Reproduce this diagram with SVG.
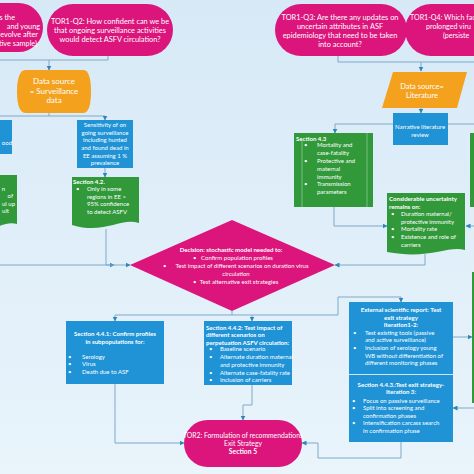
<svg xmlns="http://www.w3.org/2000/svg" width="474" height="474" viewBox="0 0 474 474">
<defs>
<linearGradient id="bg" x1="0" y1="0" x2="0" y2="1"><stop offset="0" stop-color="#d7e9f7"/><stop offset="1" stop-color="#e9f4fb"/></linearGradient>
<marker id="ah" viewBox="0 0 10 10" refX="9" refY="5" markerWidth="5" markerHeight="5" orient="auto" markerUnits="userSpaceOnUse"><path d="M0,0 L10,5 L0,10 Z" fill="#2f86b8"/></marker>
</defs>
<style>
text{font-family:Lato,"Open Sans","Liberation Sans",sans-serif;fill:#fff}
.pill{fill:#db157c}
.q{font-size:7.4px;text-anchor:middle}
.qe{font-size:7.3px;text-anchor:end}
.qs{font-size:7.1px}
.b{font-size:6px}
.bh{font-size:6.1px;font-weight:bold}
.c{text-anchor:middle}
.e{text-anchor:end}
.blue{fill:#1f93d6}
.green{fill:#31993a}
.orange{fill:#f4a11d}
.con{fill:none;stroke:#7ea9c9;stroke-width:1}
.arr{marker-end:url(#ah)}
.inner{stroke:#8cc792;stroke-width:0.8}
</style>
<rect width="474" height="474" fill="url(#bg)"/>

<g id="connectors">
<path class="con" d="M0 60 H108 V56"/>
<path class="con arr" d="M49 60 V70"/>
<path class="con" d="M338 56 V62 H474"/>
<path class="con arr" d="M421 62 V71"/>
<path class="con" d="M49 113 V116 M0 116 H105"/>
<path class="con arr" d="M105 116 V120"/>
<path class="con arr" d="M105 168 V177"/>
<path class="con arr" d="M0 265 H114"/>
<path class="con arr" d="M106 229 V265 H130"/>
<path class="con arr" d="M421 108 V113"/>
<path class="con arr" d="M393 124 H335 V133"/>
<path class="con" d="M448 124 H474"/>
<path class="con arr" d="M334 207 V226 H387"/>
<path class="con arr" d="M474 226 H466"/>
<path class="con arr" d="M425 254 V265 H335"/>
<path class="con" d="M232 311 V315 M115 315 H338"/>
<path class="con arr" d="M115 315 V321"/>
<path class="con arr" d="M252 315 V321"/>
<path class="con arr" d="M338 315 V297 H401 V302"/>
<path class="con arr" d="M453 337 H472"/>
<path class="con arr" d="M474 408 H453"/>
<path class="con arr" d="M115 384 V443 H184"/>
<path class="con arr" d="M252 385 V405 H243 V420"/>
<path class="con arr" d="M401 442 V458 H318 V443 H302"/>
</g>

<g id="q1">
<rect class="pill" x="-70" y="3" width="113" height="49" rx="24.5"/>
<text class="qe" x="15" y="19.5">s the</text>
<text class="qe" x="40" y="28.5">and young</text>
<text class="qe" x="38" y="37">evolve after</text>
<text class="qe" x="37" y="45.5">tive sample)</text>
</g>
<g id="q2">
<rect class="pill" x="47" y="4" width="126" height="52" rx="26"/>
<text class="q" x="110" y="24">TOR1-Q2: How confident can we be</text>
<text class="q" x="110" y="33">that ongoing surveillance activities</text>
<text class="q" x="110" y="42">would detect ASFV circulation?</text>
</g>
<g id="q3">
<rect class="pill" x="275" y="4" width="132" height="52" rx="26"/>
<text class="q" x="340" y="20">TOR1-Q3: Are there any updates on</text>
<text class="q" x="340" y="29">uncertain attributes in ASF</text>
<text class="q" x="340" y="38">epidemiology that need to be taken</text>
<text class="q" x="340" y="47">into account?</text>
</g>
<g id="q4">
<rect class="pill" x="405" y="4" width="120" height="52" rx="26"/>
<text class="qs" x="410" y="20">TOR1-Q4: Which fac</text>
<text class="qs" x="426" y="29">prolonged viru</text>
<text class="qs" x="443" y="38">(persiste</text>
</g>

<g id="ds-surv">
<path class="orange" d="M26 70 H83 Q91 70 91 91.5 Q91 113 83 113 H26 Q17 113 17 91.5 Q17 70 26 70 Z"/>
<text class="c" style="font-size:8px" x="54" y="84">Data source</text>
<text class="c" style="font-size:8px" x="54" y="93.5">= Surveillance</text>
<text class="c" style="font-size:8px" x="54" y="103">data</text>
</g>

<g id="left-blue">
<rect class="blue" x="-20" y="120" width="32" height="34"/>
<text class="b e" x="12" y="145">ood</text>
</g>
<g id="left-green">
<path class="green" d="M-20 175 H17 V224 C5 220 -5 232 -20 226 Z"/>
<text class="b e" x="5" y="191">n</text>
<text class="b e" x="13" y="198">of</text>
<text class="b e" x="15" y="206">ul up</text>
<text class="b e" x="9" y="213">ult</text>
</g>

<g id="sensitivity">
<rect class="blue" x="77" y="120" width="56" height="48"/>
<text class="b c" x="105" y="127">Sensitivity of on</text>
<text class="b c" x="105" y="135">going surveillance</text>
<text class="b c" x="105" y="142">including hunted</text>
<text class="b c" x="105" y="150">and found dead in</text>
<text class="b c" x="105" y="158">EE assuming 1 %</text>
<text class="b c" x="105" y="165">prevalence</text>
</g>

<g id="s42">
<path class="green" d="M72 177 H139 V223 C120 217 105 235 72 225 Z"/>
<text class="bh" x="73" y="184">Section 4.2.</text>
<text class="b" x="76" y="191">•</text>
<text class="b" x="87" y="191">Only in some</text>
<text class="b" x="87" y="199">regions in EE &gt;</text>
<text class="b" x="87" y="206">95% confidence</text>
<text class="b" x="87" y="214">to detect ASFV</text>
</g>

<g id="ds-lit">
<path class="orange" d="M393 72 H467 L457 108 H382 Z"/>
<text class="c" style="font-size:7.5px" x="422" y="88.5">Data source=</text>
<text class="c" style="font-size:7.5px" x="422" y="97.5">Literature</text>
</g>

<g id="narrative">
<rect class="blue" x="393" y="113" width="55" height="32"/>
<text class="b c" x="420" y="129">Narrative literature</text>
<text class="b c" x="420" y="137">review</text>
</g>

<g id="s43">
<rect class="green" x="294" y="133" width="79" height="74"/>
<line class="inner" x1="302" y1="141" x2="302" y2="207"/>
<line class="inner" x1="367" y1="133" x2="367" y2="207"/>
<text class="bh" x="296" y="141">Section 4.3</text>
<text class="b" x="304" y="147">•</text>
<text class="b" x="317" y="147">Mortality and</text>
<text class="b" x="317" y="155">case-fatality</text>
<text class="b" x="304" y="163">•</text>
<text class="b" x="317" y="163">Protective and</text>
<text class="b" x="317" y="171">maternal</text>
<text class="b" x="317" y="179">immunity</text>
<text class="b" x="304" y="186">•</text>
<text class="b" x="317" y="186">Transmission</text>
<text class="b" x="317" y="194">parameters</text>
</g>

<g id="right-green-top"><rect class="green" x="470" y="133" width="10" height="74"/></g>
<g id="right-green-low"><rect class="green" x="472" y="272" width="10" height="131"/></g>

<g id="uncertainty">
<path class="green" d="M387 193 H465 V250 C448 245 430 260 387 252 Z"/>
<text class="bh" x="389" y="201">Considerable uncertainty</text>
<text class="bh" x="389" y="209">remains on:</text>
<text class="b" x="391" y="216">•</text>
<text class="b" x="401" y="216">Duration maternal/</text>
<text class="b" x="401" y="224">protective immunity</text>
<text class="b" x="391" y="231">•</text>
<text class="b" x="401" y="231">Mortality rate</text>
<text class="b" x="391" y="239">•</text>
<text class="b" x="401" y="239">Existence and role of</text>
<text class="b" x="401" y="247">carriers</text>
</g>

<g id="decision">
<path class="pill" d="M232 220 L335 265 L232 311 L130 265 Z"/>
<text class="bh c" x="231" y="252">Decision: stochastic model needed to:</text>
<text class="b" x="193" y="260">•</text>
<text class="b c" x="237" y="260">Confirm population profiles</text>
<text class="b" x="163" y="268">•</text>
<text class="b c" x="242" y="268">Test impact of different scenarios on duration virus</text>
<text class="b c" x="236" y="276">circulation</text>
<text class="b" x="193" y="284">•</text>
<text class="b c" x="239" y="284">Test alternative exit strategies</text>
</g>

<g id="s441">
<rect class="blue" x="66" y="321" width="98" height="63"/>
<text class="bh c" x="115" y="336">Section 4.4.1: Confirm profiles</text>
<text class="bh c" x="115" y="344">in subpopulations for:</text>
<text class="b" x="68" y="359">•</text>
<text class="b" x="82" y="359">Serology</text>
<text class="b" x="68" y="366">•</text>
<text class="b" x="82" y="366">Virus</text>
<text class="b" x="68" y="374">•</text>
<text class="b" x="82" y="374">Death due to ASF</text>
</g>

<g id="s442">
<rect class="blue" x="204" y="321" width="88" height="64"/>
<text class="bh" x="206" y="330">Section 4.4.2: Test impact of</text>
<text class="bh" x="206" y="337">different scenarios on</text>
<text class="bh" x="206" y="345">perpetuation ASFV circulation:</text>
<text class="b" x="209" y="351">•</text>
<text class="b" x="220" y="351">Baseline scenario</text>
<text class="b" x="209" y="359">•</text>
<text class="b" x="220" y="359">Alternate duration maternal</text>
<text class="b" x="220" y="367">and protective immunity</text>
<text class="b" x="209" y="375">•</text>
<text class="b" x="220" y="375">Alternate case-fatality rate</text>
<text class="b" x="209" y="382">•</text>
<text class="b" x="220" y="382">Inclusion of carriers</text>
</g>

<g id="external">
<rect class="blue" x="349" y="302" width="104" height="72"/>
<text class="bh c" x="401" y="312">External scientific report: Test</text>
<text class="bh c" x="401" y="320">exit strategy</text>
<text class="bh c" x="401" y="327">Iteration1-2:</text>
<text class="b" x="353" y="335">•</text>
<text class="b" x="365" y="335">Test existing tools (passive</text>
<text class="b" x="365" y="342">and active surveillance)</text>
<text class="b" x="353" y="350">•</text>
<text class="b" x="365" y="350">Inclusion of serology young</text>
<text class="b" x="365" y="358">WB without differentiation of</text>
<text class="b" x="365" y="365">different monitoring phases</text>
</g>

<g id="s443">
<rect class="blue" x="349" y="375" width="104" height="67"/>
<line x1="349" y1="374.5" x2="453" y2="374.5" stroke="#cfe6f5" stroke-width="1"/>
<text class="bh c" x="401" y="387">Section 4.4.3.:Test exit strategy-</text>
<text class="bh c" x="401" y="394">Iteration 3:</text>
<text class="b" x="352" y="403">•</text>
<text class="b" x="363" y="403">Focus on passive surveillance</text>
<text class="b" x="352" y="410">•</text>
<text class="b" x="363" y="410">Split into screening and</text>
<text class="b" x="363" y="418">confirmation phases</text>
<text class="b" x="352" y="425">•</text>
<text class="b" x="363" y="425">Intensification carcass search</text>
<text class="b" x="363" y="433">in confirmation phase</text>
</g>

<g id="tor2">
<rect class="pill" x="184" y="420" width="118" height="47" rx="23.5"/>
<text class="c" style="font-size:6.8px" x="243" y="438">TOR2: Formulation of recommendations</text>
<text class="c" style="font-size:6.8px" x="243" y="446">Exit Strategy</text>
<text class="c" style="font-size:6.8px;font-weight:bold" x="243" y="454">Section 5</text>
</g>
</svg>
